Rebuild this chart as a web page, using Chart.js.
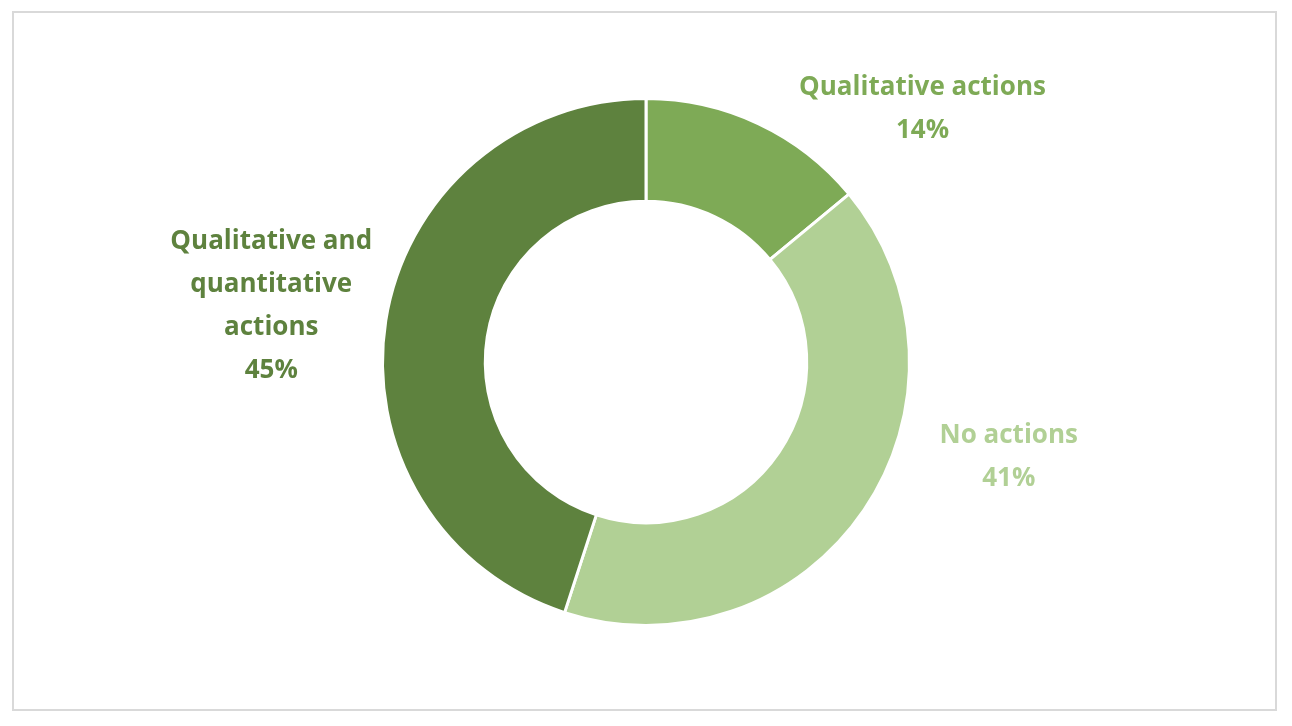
<!DOCTYPE html>
<html>
<head>
<meta charset="utf-8">
<script src="https://cdn.jsdelivr.net/npm/chart.js@4/dist/chart.umd.min.js"></script>
<style>
  body { margin: 0; background: #fff; }
  #wrap { position: relative; width: 1292px; height: 726px; }
  #frame { position: absolute; left: 12px; top: 11px; width: 1265px; height: 700px; border: 2px solid #d9d9d9; box-sizing: border-box; pointer-events: none; }
</style>
</head>
<body>
<div id="wrap">
  <canvas id="chart" width="1292" height="726"></canvas>
  <div id="frame"></div>
</div>
<script>
const categories = ["Qualitative actions", "No actions", "Qualitative and quantitative actions"];
const values = [14, 41, 45];
const labelLines = [["Qualitative actions"], ["No actions"], ["Qualitative and", "quantitative", "actions"]];
const colors = ["#7eaa56", "#b1d095", "#5e823e"];

// draws the outside labels from each arc's geometry
const outsideLabels = {
  id: "outsideLabels",
  afterDraw(chart) {
    const ctx = chart.ctx;
    const meta = chart.getDatasetMeta(0);
    const angleShift = [22, -20, 0];
    const radiusFactor = [1.43, 1.42, 1.44];
    ctx.save();
    ctx.font = "bold 26px 'Open Sans'";
    ctx.textAlign = "center";
    ctx.textBaseline = "middle";
    meta.data.forEach((arc, i) => {
      const p = arc.getProps(["x", "y", "startAngle", "endAngle", "outerRadius"], true);
      const mid = (p.startAngle + p.endAngle) / 2 + angleShift[i] * Math.PI / 180;
      const r = p.outerRadius * radiusFactor[i];
      const cx = p.x + Math.cos(mid) * r;
      const cy = p.y + Math.sin(mid) * r + 3;
      const lines = labelLines[i].concat([values[i] + "%"]);
      const lh = 43;
      ctx.fillStyle = colors[i];
      lines.forEach((t, k) => {
        ctx.fillText(t, cx, cy + (k - (lines.length - 1) / 2) * lh);
      });
    });
    ctx.restore();
  }
};

new Chart(document.getElementById("chart").getContext("2d"), {
  type: "doughnut",
  data: {
    labels: categories,
    datasets: [{
      data: values,
      backgroundColor: colors,
      borderColor: "#ffffff",
      borderWidth: 3
    }]
  },
  options: {
    responsive: false,
    animation: false,
    cutout: "61%",
    layout: { padding: { top: 97, bottom: 99 } },
    plugins: {
      legend: { display: false },
      tooltip: { enabled: false }
    }
  },
  plugins: [outsideLabels]
});
</script>
</body>
</html>
